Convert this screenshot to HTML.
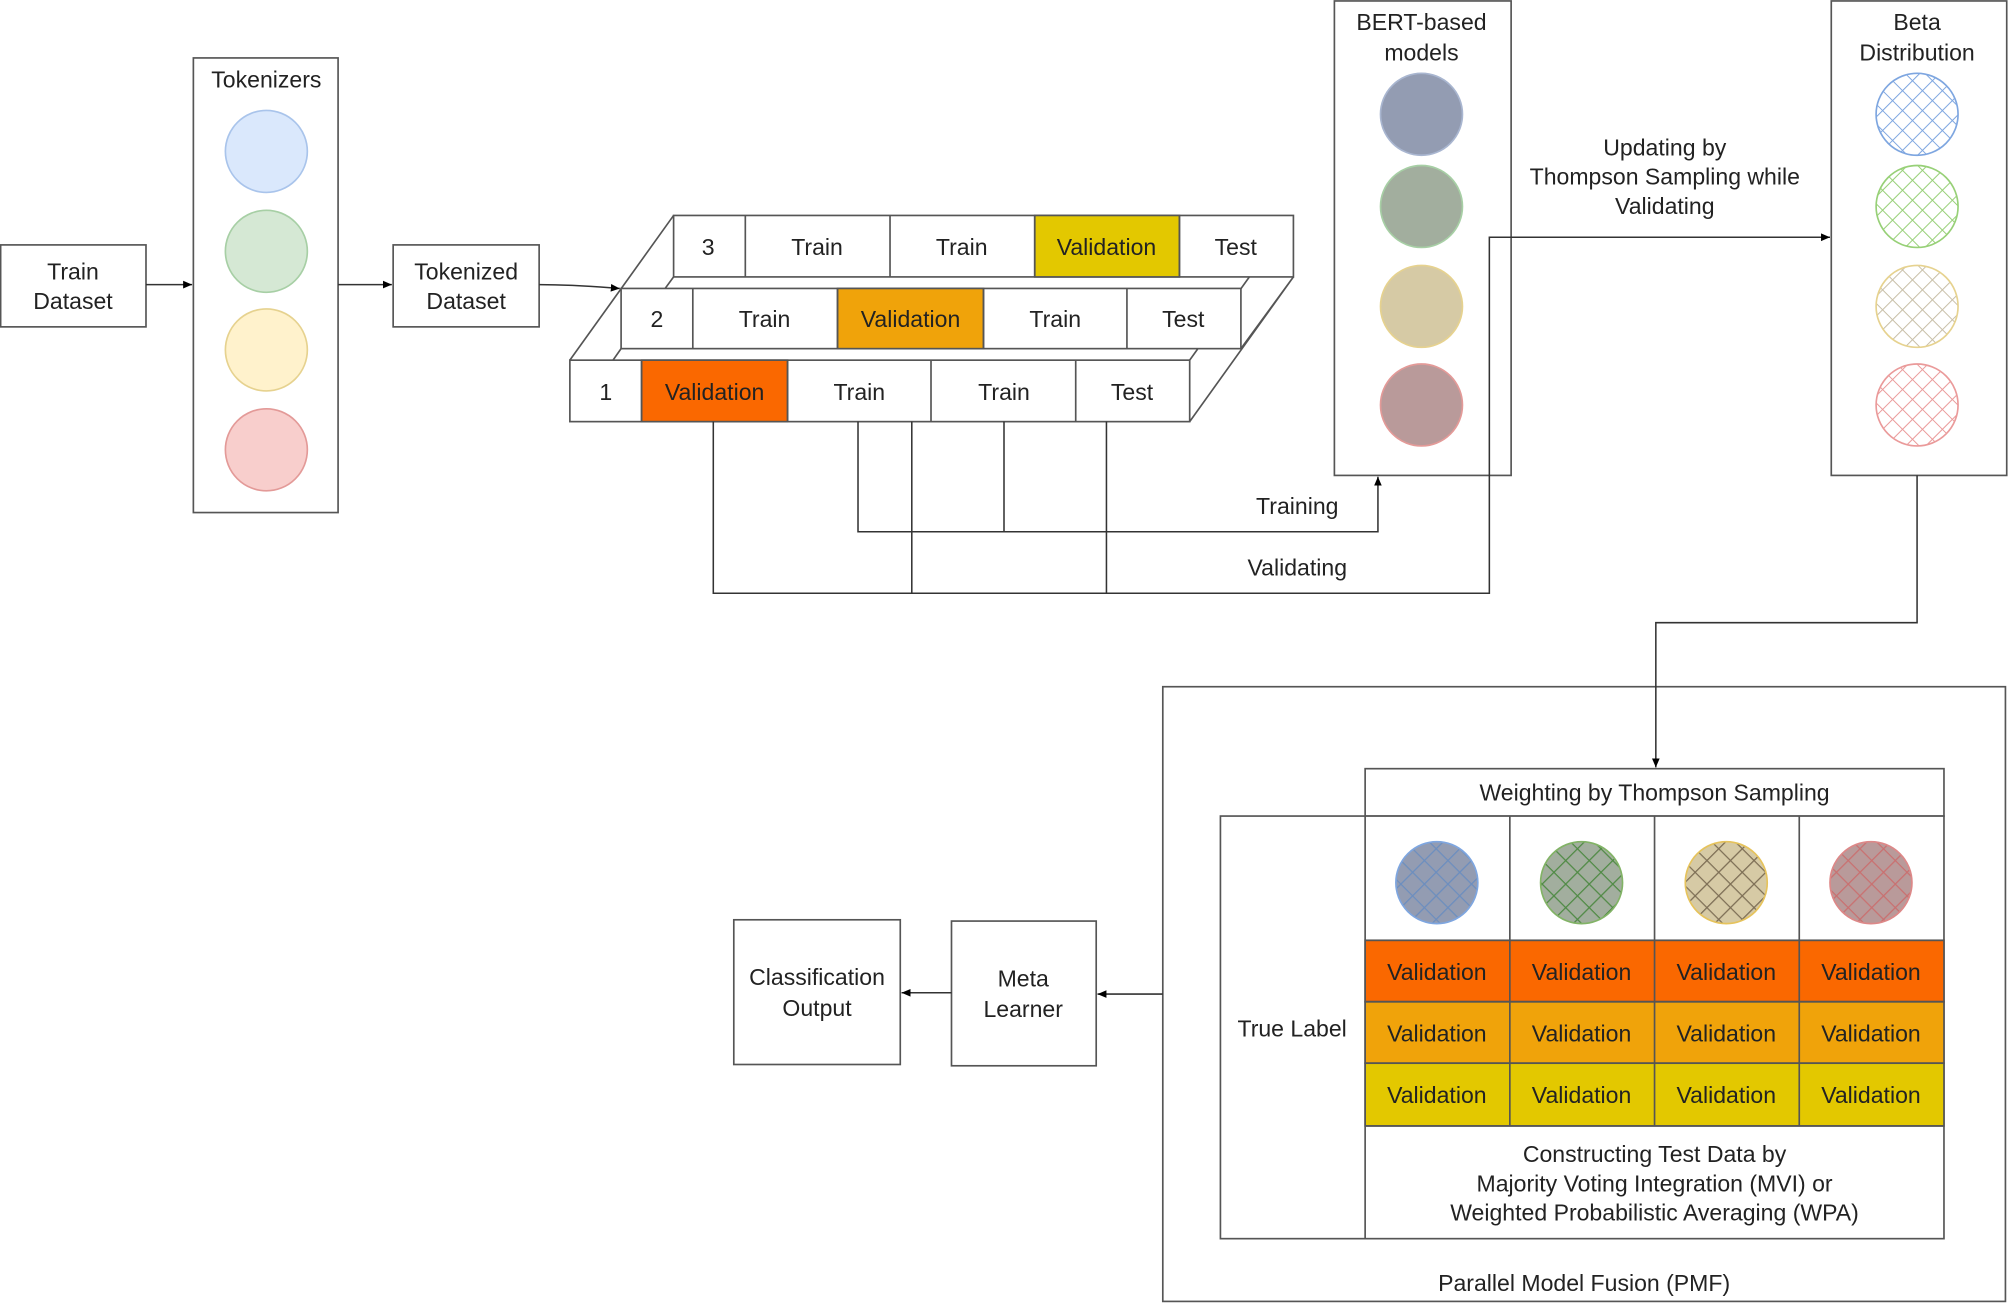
<!DOCTYPE html>
<html><head><meta charset="utf-8"><style>html,body{margin:0;padding:0;background:#fff}svg{display:block}</style></head>
<body>
<svg width="2008" height="1303" viewBox="0 0 1568 1017" xmlns="http://www.w3.org/2000/svg" font-family="Liberation Sans, sans-serif" font-size="18" fill="none">
<defs>
<marker id="a" markerWidth="8" markerHeight="8" refX="7" refY="4" orient="auto" markerUnits="userSpaceOnUse"><path d="M0,1 L7,4 L0,7 z" fill="#000"/></marker>
<pattern id="hb" width="11" height="11" patternUnits="userSpaceOnUse" patternTransform="rotate(45)"><path d="M0,0 H11 M0,0 V11" stroke="#7ea6e0" stroke-width="1.6"/></pattern>
<pattern id="hg" width="11" height="11" patternUnits="userSpaceOnUse" patternTransform="rotate(45)"><path d="M0,0 H11 M0,0 V11" stroke="#97d077" stroke-width="1.6"/></pattern>
<pattern id="hy" width="11" height="11" patternUnits="userSpaceOnUse" patternTransform="rotate(45)"><path d="M0,0 H11 M0,0 V11" stroke="#c8bfa8" stroke-width="1.6"/></pattern>
<pattern id="hr" width="11" height="11" patternUnits="userSpaceOnUse" patternTransform="rotate(45)"><path d="M0,0 H11 M0,0 V11" stroke="#ea9a9a" stroke-width="1.6"/></pattern>
<pattern id="db" width="13" height="13" patternUnits="userSpaceOnUse" patternTransform="rotate(45)"><rect width="13" height="13" fill="#939cb2"/><path d="M0,0 H13 M0,0 V13" stroke="#6c8ebf" stroke-width="2"/></pattern>
<pattern id="dg" width="13" height="13" patternUnits="userSpaceOnUse" patternTransform="rotate(45)"><rect width="13" height="13" fill="#a2ae9e"/><path d="M0,0 H13 M0,0 V13" stroke="#4f8a44" stroke-width="2"/></pattern>
<pattern id="dy" width="13" height="13" patternUnits="userSpaceOnUse" patternTransform="rotate(45)"><rect width="13" height="13" fill="#d6caa5"/><path d="M0,0 H13 M0,0 V13" stroke="#7d6e55" stroke-width="2"/></pattern>
<pattern id="dr" width="13" height="13" patternUnits="userSpaceOnUse" patternTransform="rotate(45)"><rect width="13" height="13" fill="#b99a9a"/><path d="M0,0 H13 M0,0 V13" stroke="#c97070" stroke-width="2"/></pattern>
</defs>
<g stroke="#555" stroke-width="1.3">
<!-- left boxes -->
<rect x="0.5" y="191" width="113.5" height="64" fill="#fff"/>
<rect x="151" y="45" width="113" height="355" fill="#fff"/>
<rect x="307" y="191" width="114" height="64" fill="#fff"/>
<circle cx="208" cy="118" r="32" fill="#dae8fc" stroke="#a9c4eb"/>
<circle cx="208" cy="196" r="32" fill="#d5e8d4" stroke="#a7cfa5"/>
<circle cx="208" cy="273" r="32" fill="#fff2cc" stroke="#e6d28f"/>
<circle cx="208" cy="351" r="32" fill="#f8cecc" stroke="#e39a98"/>
<!-- 3D folds -->
<path d="M445,281 L526,168 M485,272 L526,216 M445,329 L485,272 M929,329 L1010,216 M929,281 L1010,168 M969,272 L1010,216" />
<rect x="526" y="168" width="484" height="48" fill="#fff"/>
<rect x="808" y="168" width="113" height="48" fill="#e3c800"/>
<path d="M582,168V216 M695,168V216 M808,168V216 M921,168V216"/>
<rect x="485" y="225" width="484" height="47" fill="#fff"/>
<rect x="654" y="225" width="114" height="47" fill="#f0a30a"/>
<path d="M541,225V272 M654,225V272 M768,225V272 M880,225V272"/>
<rect x="445" y="281" width="484" height="48" fill="#fff"/>
<rect x="501" y="281" width="114" height="48" fill="#fa6800"/>
<path d="M501,281V329 M615,281V329 M727,281V329 M840,281V329"/>
<!-- BERT & Beta -->
<rect x="1042" y="0.5" width="138" height="370.5" fill="#fff"/>
<circle cx="1110" cy="89" r="32" fill="#939cb2" stroke="#a9b6d0"/>
<circle cx="1110" cy="161" r="32" fill="#a2ae9e" stroke="#a7cfa5"/>
<circle cx="1110" cy="239" r="32" fill="#d6caa5" stroke="#e6d28f"/>
<circle cx="1110" cy="316" r="32" fill="#b99a9a" stroke="#e39a98"/>
<rect x="1430" y="0.5" width="137" height="370.5" fill="#fff"/>
<circle cx="1497" cy="89" r="32" fill="url(#hb)" stroke="#7ea6e0"/>
<circle cx="1497" cy="161" r="32" fill="url(#hg)" stroke="#97d077"/>
<circle cx="1497" cy="239" r="32" fill="url(#hy)" stroke="#e6d28f"/>
<circle cx="1497" cy="316" r="32" fill="url(#hr)" stroke="#ea9a9a"/>
<!-- PMF -->
<rect x="908" y="536" width="658" height="480" fill="#fff"/>
<rect x="1066" y="600" width="452" height="37" fill="#fff"/>
<rect x="953" y="637" width="565" height="330" fill="#fff"/>
<rect x="1066" y="734" width="452" height="48" fill="#fa6800"/>
<rect x="1066" y="782" width="452" height="48" fill="#f0a30a"/>
<rect x="1066" y="830" width="452" height="49" fill="#e3c800"/>
<path d="M1066,637V967 M1179,637V879 M1292,637V879 M1405,637V879 M1066,734H1518 M1066,782H1518 M1066,830H1518 M1066,879H1518"/>
<circle cx="1122" cy="689" r="32" fill="url(#db)" stroke="#7ea6e0"/>
<circle cx="1235" cy="689" r="32" fill="url(#dg)" stroke="#82b366"/>
<circle cx="1348" cy="689" r="32" fill="url(#dy)" stroke="#e6c35c"/>
<circle cx="1461" cy="689" r="32" fill="url(#dr)" stroke="#d88"/>
<rect x="743" y="719" width="113" height="113" fill="#fff"/>
<rect x="573" y="718" width="130" height="113" fill="#fff"/>
</g>
<!-- connectors -->
<g stroke="#333" stroke-width="1.2">
<path d="M114,222H150" marker-end="url(#a)"/>
<path d="M264,222H306" marker-end="url(#a)"/>
<path d="M421,222 C450,222 470,224 484,225" marker-end="url(#a)"/>
<path d="M557,329V463H1163V185H1429" marker-end="url(#a)"/>
<path d="M712,329V463 M864,329V463 M784,329V415"/>
<path d="M670,329V415H1076V372" marker-end="url(#a)"/>
<path d="M1497,371V486H1293V599" marker-end="url(#a)"/>
<path d="M908,776H857" marker-end="url(#a)"/>
<path d="M743,775H704" marker-end="url(#a)"/>
</g>
<g fill="#222" text-anchor="middle" font-size="18">
<text x="57" y="218">Train</text><text x="57" y="241">Dataset</text>
<text x="208" y="68">Tokenizers</text>
<text x="364" y="218">Tokenized</text><text x="364" y="241">Dataset</text>
<text x="553" y="199">3</text><text x="638" y="199">Train</text><text x="751" y="199">Train</text><text x="864" y="199">Validation</text><text x="965" y="199">Test</text>
<text x="513" y="255">2</text><text x="597" y="255">Train</text><text x="711" y="255">Validation</text><text x="824" y="255">Train</text><text x="924" y="255">Test</text>
<text x="473" y="312">1</text><text x="558" y="312">Validation</text><text x="671" y="312">Train</text><text x="784" y="312">Train</text><text x="884" y="312">Test</text>
<text x="1013" y="401">Training</text><text x="1013" y="449">Validating</text>
<text x="1110" y="23">BERT-based</text><text x="1110" y="47">models</text>
<text x="1497" y="23">Beta</text><text x="1497" y="47">Distribution</text>
<text x="1300" y="121">Updating by</text><text x="1300" y="144">Thompson Sampling while</text><text x="1300" y="167">Validating</text>
<text x="1292" y="625">Weighting by Thompson Sampling</text>
<text x="1009" y="809">True Label</text>
<g><text x="1122" y="765">Validation</text><text x="1235" y="765">Validation</text><text x="1348" y="765">Validation</text><text x="1461" y="765">Validation</text>
<text x="1122" y="813">Validation</text><text x="1235" y="813">Validation</text><text x="1348" y="813">Validation</text><text x="1461" y="813">Validation</text>
<text x="1122" y="861">Validation</text><text x="1235" y="861">Validation</text><text x="1348" y="861">Validation</text><text x="1461" y="861">Validation</text></g>
<text x="1292" y="907">Constructing Test Data by</text><text x="1292" y="930">Majority Voting Integration (MVI) or</text><text x="1292" y="953">Weighted Probabilistic Averaging (WPA)</text>
<text x="1237" y="1008">Parallel Model Fusion (PMF)</text>
<text x="799" y="770">Meta</text><text x="799" y="794">Learner</text>
<text x="638" y="769">Classification</text><text x="638" y="793">Output</text>
</g>
</svg>
</body></html>
